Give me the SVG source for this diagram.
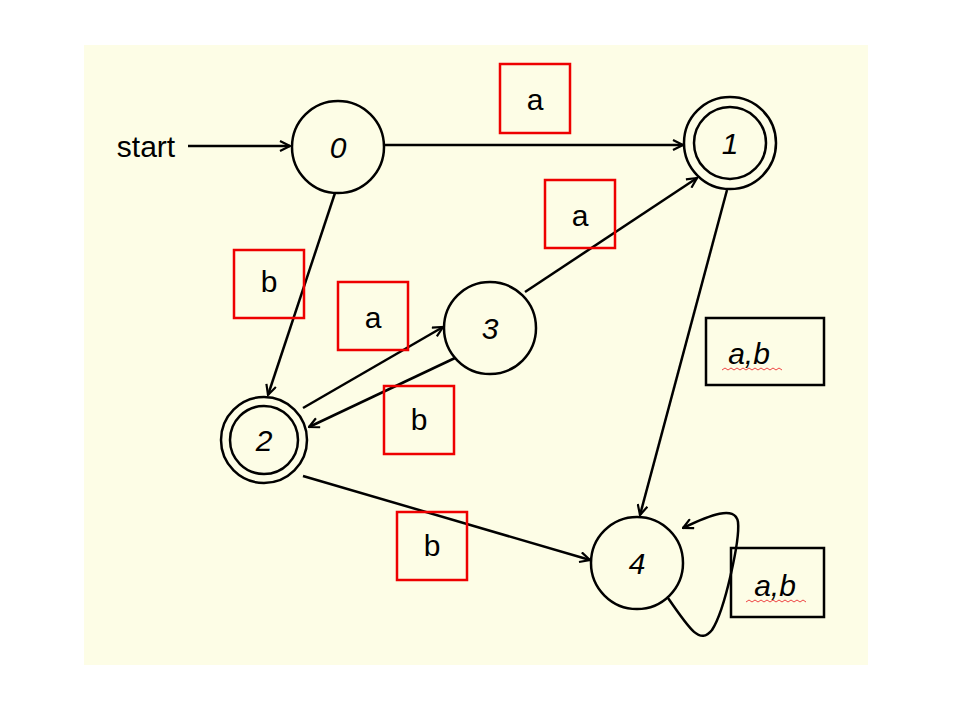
<svg xmlns="http://www.w3.org/2000/svg" width="972" height="702" viewBox="0 0 972 702">
<style>
.n{fill:none;stroke:#000;stroke-width:2.5}
.t{font-family:"Liberation Sans",Arial,sans-serif;font-style:italic;font-size:30px;text-anchor:middle}
.l{font-family:"Liberation Sans",Arial,sans-serif;font-size:30px;text-anchor:middle}
.e{fill:none;stroke:#000;stroke-width:2.5;marker-end:url(#ah)}
.r{fill:none;stroke:#e00;stroke-width:2.5}
.k{fill:none;stroke:#000;stroke-width:2.5}
.w{fill:none;stroke:#e44;stroke-width:1}
</style>
<defs><marker id="ah" viewBox="0 0 12 12" refX="11" refY="6" markerWidth="12" markerHeight="12" markerUnits="userSpaceOnUse" orient="auto"><polyline points="1,1 11,6 1,11" fill="none" stroke="#000" stroke-width="2.2"/></marker></defs>
<rect width="972" height="702" fill="#fff"/>
<rect x="84" y="45" width="784" height="620" fill="#fdfde6"/>
<g id="edges">
<line class="e" x1="188" y1="146" x2="290" y2="146"/>
<line class="e" x1="384" y1="145" x2="683" y2="145"/>
<line class="e" x1="525" y1="292" x2="697" y2="178"/>
<line class="e" x1="335" y1="193" x2="268" y2="395"/>
<line class="e" x1="303" y1="408" x2="443" y2="327"/>
<line class="e" x1="455" y1="358" x2="309" y2="427"/>
<line class="e" x1="303" y1="476" x2="590" y2="560"/>
<line class="e" x1="727" y1="190" x2="640" y2="515"/>
<path class="e" d="M668,598 C690,630 700,645 712,630 C725,610 740,540 738,522 C735,505 710,515 683,528"/>
</g>
<text class="l" x="146" y="157">start</text>
<g id="n0"><circle class="n" cx="338" cy="147" r="46"/><text class="t" x="338" y="158">0</text></g>
<g id="n1"><circle class="n" cx="730" cy="143" r="46"/><circle class="n" cx="730" cy="143" r="36"/><text class="t" x="730" y="154">1</text></g>
<g id="n3"><circle class="n" cx="490" cy="328" r="46"/><text class="t" x="490" y="339">3</text></g>
<g id="n2"><circle class="n" cx="264" cy="440" r="43"/><circle class="n" cx="264" cy="440" r="34"/><text class="t" x="264" y="451">2</text></g>
<g id="n4"><circle class="n" cx="637" cy="563" r="46"/><text class="t" x="637" y="574">4</text></g>
<g id="labels">
<rect class="r" x="500" y="64" width="70" height="69"/><text class="l" x="535" y="110">a</text>
<rect class="r" x="545" y="180" width="70" height="68"/><text class="l" x="580" y="226">a</text>
<rect class="r" x="234" y="250" width="70" height="68"/><text class="l" x="269" y="292">b</text>
<rect class="r" x="338" y="282" width="70" height="68"/><text class="l" x="373" y="328">a</text>
<rect class="r" x="384" y="386" width="70" height="68"/><text class="l" x="419" y="430">b</text>
<rect class="r" x="397" y="512" width="70" height="68"/><text class="l" x="432" y="556">b</text>
<rect class="k" x="706" y="318" width="118" height="67"/><text class="t" x="749" y="364">a,b</text>
<path class="w" d="M722,370 l3,-2 3,2 3,-2 3,2 3,-2 3,2 3,-2 3,2 3,-2 3,2 3,-2 3,2 3,-2 3,2 3,-2 3,2 3,-2 3,2 3,-2 3,2"/>
<rect class="k" x="731" y="548" width="93" height="69"/><text class="t" x="775" y="596">a,b</text>
<path class="w" d="M746,602 l3,-2 3,2 3,-2 3,2 3,-2 3,2 3,-2 3,2 3,-2 3,2 3,-2 3,2 3,-2 3,2 3,-2 3,2 3,-2 3,2 3,-2 3,2"/>
</g>
</svg>
